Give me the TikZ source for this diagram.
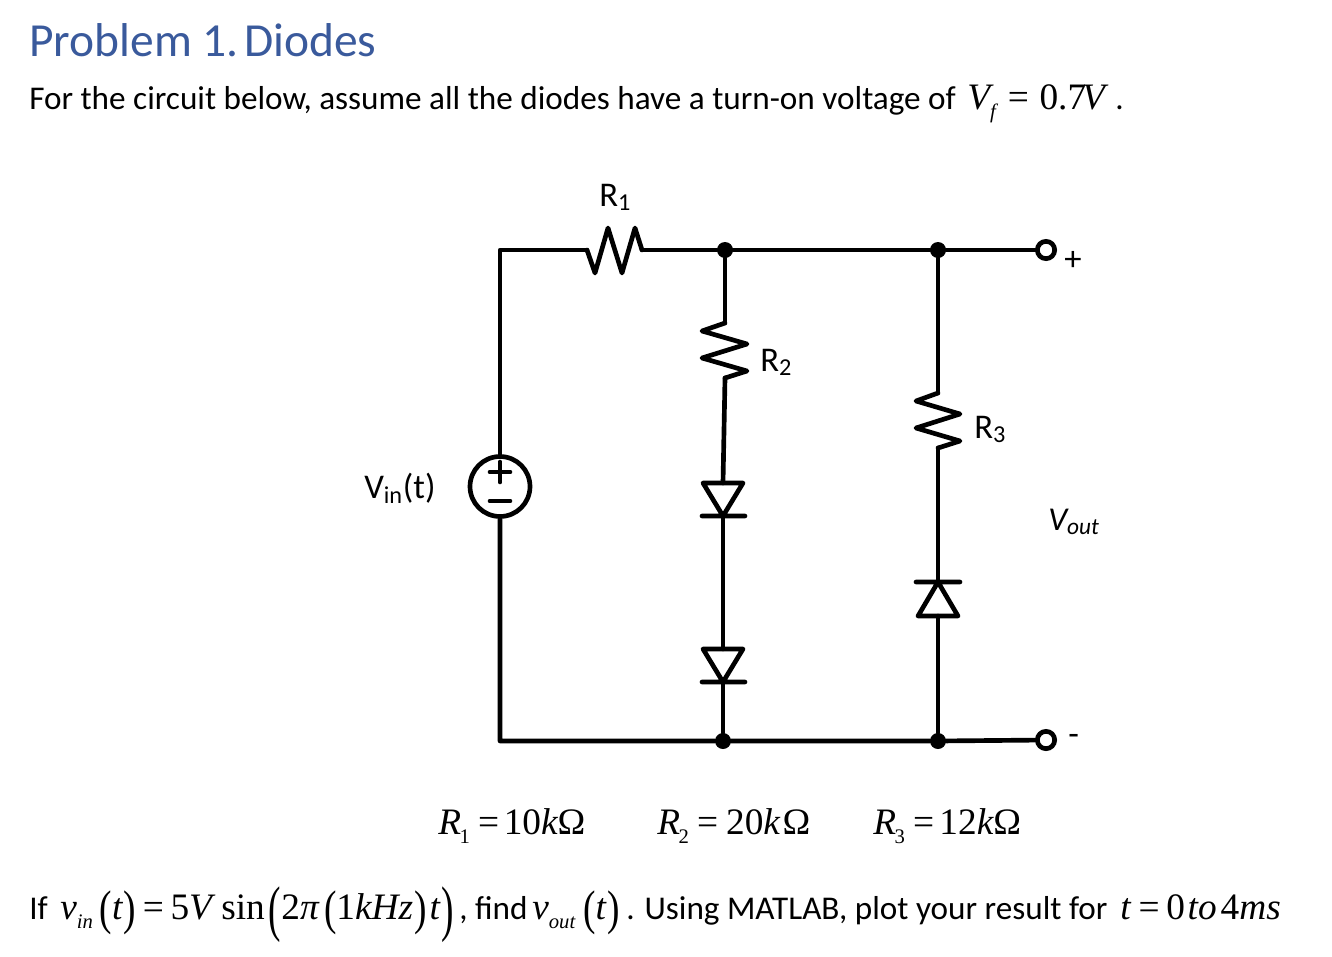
\documentclass[tikz,border=0pt]{standalone}
\usepackage{fontspec}
\usepackage{graphicx}
\setmainfont{Carlito}
\newfontfamily\serifmath{Liberation Serif}
\newcommand{\mi}[1]{{\serifmath\itshape #1}}
\newcommand{\mr}[1]{{\serifmath #1}}
\newcommand{\subi}[1]{{\serifmath\itshape\fontsize{15.5}{15}\selectfont\raisebox{-7pt}{#1}}}
\newcommand{\subr}[1]{{\serifmath\fontsize{15.5}{15}\selectfont\raisebox{-7pt}{#1}}}
\newcommand{\bigp}[1]{\raisebox{-0.3ex}{\scalebox{1}[1.3]{\serifmath #1}}}
\newcommand{\hugep}[1]{\raisebox{-0.6ex}{\scalebox{1}[1.65]{\serifmath #1}}}
\definecolor{titleblue}{HTML}{3A5A9C}
\usetikzlibrary{calc}

\begin{document}
\begin{tikzpicture}[x=0.75pt,y=-0.75pt,
    wire/.style={line width=3.5pt,line join=round,line cap=round},
    dot/.style={circle,fill=black,inner sep=0pt,minimum size=12pt},
    terminal/.style={circle,draw,fill=white,line width=3.5pt,inner sep=0pt,minimum size=13pt},
    source/.style={circle,draw,line width=3.5pt,inner sep=0pt,minimum size=45pt},
    txt/.style={anchor=base west,inner sep=0pt,font=\fontsize{24.9}{28}\selectfont},
    label/.style={anchor=base west,inner sep=0pt,font=\fontsize{26}{30}\selectfont},
    formula/.style={anchor=base west,inner sep=0pt,font=\fontsize{28}{32}\selectfont}]

    \useasboundingbox (0,0) rectangle (1332,957);

    % text lines
    \node[anchor=base west,inner sep=0pt,text=titleblue,font=\fontsize{35.6}{40}\selectfont] (title) at (29,56) {Problem 1.\hspace{4pt}Diodes};
    \node[txt] (intro) at (29,109) {For the circuit below, assume all the diodes have a turn-on voltage of};
    \node[formula] (vf) at (967,109) {\mi{V}\hspace{0pt}\subi{f}\hspace{9pt}\mr{=}\hspace{8pt}\mr{0.7}\hspace{-3pt}\mi{V}};
    \node[txt] (stop) at (1115,109) {.};

    % junctions and terminals
    \coordinate (tl) at (500,250);
    \coordinate (bl) at (500,741);
    \node[dot] (n1) at (725,250) {};
    \node[dot] (n2) at (938,250) {};
    \node[dot] (n3) at (723,741) {};
    \node[dot] (n4) at (938,741) {};
    \node[terminal] (plus) at (1046,250) {};
    \node[terminal] (minus) at (1046,740) {};
    \node[source] (vin) at (500,486.5) {};

    % R1
    \coordinate (r1a) at (587,250);
    \coordinate (r1b) at (642,250);
    \draw[wire] (r1a) -- (595,273) -- (608,228) -- (622,273) -- (635,228) -- (r1b);

    % R2
    \coordinate (r2a) at (725,323);
    \coordinate (r2b) at (725,378);
    \draw[wire] (r2a) -- (702,331) -- (747,344) -- (702,358) -- (747,371) -- (r2b);

    % R3
    \coordinate (r3a) at (938,393);
    \coordinate (r3b) at (938,448);
    \draw[wire] (r3a) -- (916,401) -- (960,414) -- (916,428) -- (960,441) -- (r3b);

    % diodes
    \coordinate (d1a) at (723,483);
    \coordinate (d1k) at (723,516);
    \coordinate (d2a) at (723,649);
    \coordinate (d2k) at (723,682);
    \coordinate (d3a) at (938,616);
    \coordinate (d3k) at (938,582);
    \draw[wire] (703,483) -- (743,483) -- (d1k) -- cycle (702,516) -- (745,516);
    \draw[wire] (703,649) -- (743,649) -- (d2k) -- cycle (702,682) -- (745,682);
    \draw[wire] (918,616) -- (958,616) -- (d3k) -- cycle (916,582) -- (960,582);

    % wires
    \draw[wire] (vin) -- (tl) -- (r1a);
    \draw[wire] (vin) -- (bl) -- (n3) -- (n4) -- (minus);
    \draw[wire] (r1b) -- (n1) -- (n2) -- (plus);
    \draw[wire] (n1) -- (r2a);
    \draw[wire] (r2b) -- (d1a);
    \draw[wire] (d1k) -- (d2a);
    \draw[wire] (d2k) -- (n3);
    \draw[wire] (n2) -- (r3a);
    \draw[wire] (r3b) -- (d3k);
    \draw[wire] (d3a) -- (n4);

    % source polarity
    \draw[wire] ($(vin)+(-10,-14.5)$) -- ($(vin)+(10,-14.5)$) ($(vin)+(0,-24.5)$) -- ($(vin)+(0,-4.5)$);
    \draw[wire] ($(vin)+(-10,14.5)$) -- ($(vin)+(10,14.5)$);

    % labels
    \node[label] (r1lab) at (599,206) {R\textsubscript{1}};
    \node[label] (r2lab) at (760,371) {R\textsubscript{2}};
    \node[label] (r3lab) at (974,438) {R\textsubscript{3}};
    \node[label] (vinlab) at (364,498) {V\textsubscript{in}(t)};
    \node[label,font=\fontsize{25}{30}\selectfont] (voutlab) at (1048,530) {\itshape V\textsubscript{out}};
    \node[label] (pluslab) at (1064,270) {+};
    \node[label] (minuslab) at (1068,745) {-};

    % values
    \node[formula] (r1val) at (438,834) {\mi{R}\hspace{-1pt}\subr{1}\hspace{6pt}\mr{=}\hspace{3.5pt}\mr{10}\mi{k}\mr{Ω}};
    \node[formula] (r2val) at (657,834) {\mi{R}\hspace{-1pt}\subr{2}\hspace{6pt}\mr{=}\hspace{6pt}\mr{20}\mi{k}\hspace{2pt}\mr{Ω}};
    \node[formula] (r3val) at (873,834) {\mi{R}\hspace{-1pt}\subr{3}\hspace{6pt}\mr{=}\hspace{4pt}\mr{12}\mi{k}\mr{Ω}};

    % last line
    \node[txt] (ifword) at (29,919) {If};
    \node[formula] (vineq) at (60,919) {\mi{v}\subi{in}\hspace{5pt}\bigp{(}\mi{t}\hspace{1pt}\bigp{)}\hspace{5pt}\mr{=}\hspace{5pt}\mr{5}\mi{V}\hspace{7pt}\mr{sin}\hspace{3pt}\hugep{(}\mr{2}\mi{π}\hspace{4pt}\bigp{(}\mr{1}\mi{kHz}\hspace{1pt}\bigp{)}\hspace{2pt}\mi{t}\hspace{1pt}\hugep{)}};
    \node[txt] (findword) at (459,919) {, find};
    \node[formula] (vouteq) at (532,919) {\mi{v}\subi{out}\hspace{6pt}\bigp{(}\mi{t}\hspace{1pt}\bigp{)}};
    \node[txt] (usingword) at (626,919) {. Using MATLAB, plot your result for};
    \node[formula] (teq) at (1120,919) {\mi{t}\hspace{6pt}\mr{=}\hspace{5pt}\mr{0}\hspace{2pt}\mi{to}\hspace{3pt}\mr{4}\mi{ms}};
\end{tikzpicture}
\end{document}
